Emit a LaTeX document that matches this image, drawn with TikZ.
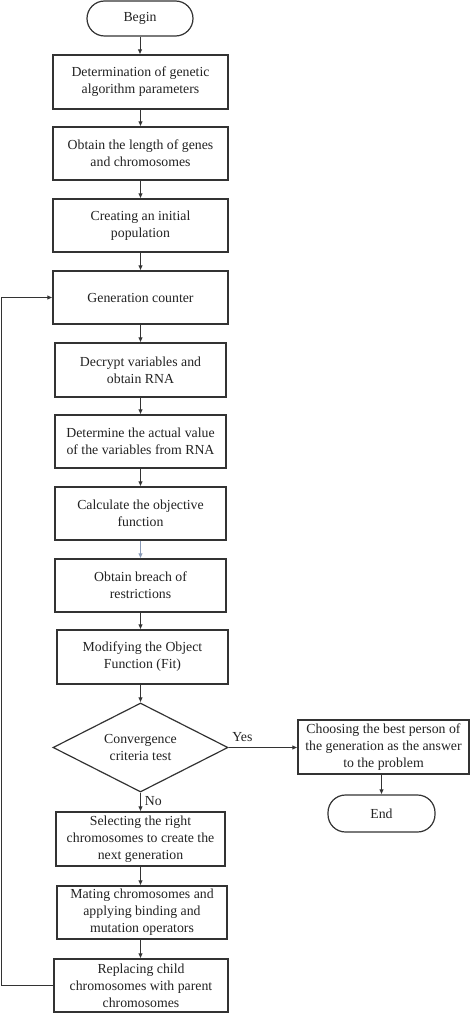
\documentclass[tikz,border=0pt]{standalone}
\usepackage{fontspec}
\setmainfont{Liberation Serif}
\usetikzlibrary{shapes.geometric,arrows.meta}
\definecolor{ink}{HTML}{222222}
\definecolor{linec}{HTML}{333333}
\definecolor{bluish}{HTML}{8A9BB8}
\begin{document}
\begin{tikzpicture}[x=1pt,y=-1pt,
  every node/.style={text=ink,font=\fontsize{13.8}{17}\selectfont},
  proc/.style={draw=linec,line width=1.2pt,rectangle,inner sep=0pt,align=center},
  term/.style={draw=linec,line width=1.2pt,rectangle,rounded corners=17.5pt,inner sep=0pt,align=center},
  decide/.style={draw=linec,line width=1.2pt,diamond,inner sep=0pt,align=center},
  arr/.style={draw=linec,line width=0.9pt,-{Latex[length=5pt,width=4.5pt]}},
  lbl/.style={inner sep=0pt}]
\useasboundingbox (0,0) rectangle (474,1019);
% box helper: center and size
\node[term, minimum width=106pt, minimum height=35pt] (begin) at (140,18.5) {Begin};
\node[proc, minimum width=175pt, minimum height=54pt] (b1) at (140.5,82) {Determination of genetic\\algorithm parameters};
\node[proc, minimum width=175pt, minimum height=53pt] (b2) at (140.5,153.5) {Obtain the length of genes\\and chromosomes};
\node[proc, minimum width=175pt, minimum height=53pt] (b3) at (140.5,225.5) {Creating an initial\\population};
\node[proc, minimum width=175pt, minimum height=53pt] (gen) at (140.5,297.5) {Generation counter};
\node[proc, minimum width=171pt, minimum height=54pt] (dec) at (140.5,370) {Decrypt variables and\\obtain RNA};
\node[proc, minimum width=171pt, minimum height=53pt] (det) at (140.5,441.5) {Determine the actual value\\of the variables from RNA};
\node[proc, minimum width=171pt, minimum height=53pt] (calc) at (140.5,513.5) {Calculate the objective\\function};
\node[proc, minimum width=171pt, minimum height=53pt] (breach) at (140.5,585.5) {Obtain breach of\\restrictions};
\node[proc, minimum width=171pt, minimum height=54pt] (mod) at (142.5,657) {Modifying the Object\\Function (Fit)};
\node[decide, minimum width=175pt, minimum height=89pt, aspect=1.97] (conv) at (140.5,747.5) {};
\node[lbl, align=center] at (140.5,747.5) {Convergence\\criteria test};
\node[proc, minimum width=171pt, minimum height=54pt] (choose) at (383.5,747) {Choosing the best person of\\the generation as the answer\\to the problem};
\node[term, minimum width=107pt, minimum height=37pt] (end) at (381.5,813.5) {End};
\node[proc, minimum width=169pt, minimum height=54pt] (sel) at (140.5,839) {Selecting the right\\chromosomes to create the\\next generation};
\node[proc, minimum width=170pt, minimum height=53pt] (mat) at (142,912.5) {Mating chromosomes and\\applying binding and\\mutation operators};
\node[proc, minimum width=174pt, minimum height=53pt] (rep) at (141,985.5) {Replacing child\\chromosomes with parent\\chromosomes};
\coordinate (lc) at (1,985.5);
% connectors
\draw[arr] (begin.south) -- (begin.south |- b1.north);
\draw[arr] (b1.south) -- (b2.north);
\draw[arr] (b2.south) -- (b3.north);
\draw[arr] (b3.south) -- (gen.north);
\draw[arr] (gen.south) -- (dec.north);
\draw[arr] (dec.south) -- (det.north);
\draw[arr] (det.south) -- (calc.north);
\draw[arr,draw=bluish] (calc.south) -- (breach.north);
\draw[arr] (breach.south) -- (breach.south |- mod.north);
\draw[arr] (mod.south -| conv.north) -- (conv.north);
\draw[arr] (conv.east) -- node[lbl, above=5pt, pos=0.2] {Yes} (conv.east -| choose.west);
\draw[arr] (choose.south -| end.north) -- (end.north);
\draw[arr] (conv.south) -- node[lbl, right=4pt, pos=0.45] {No} (conv.south |- sel.north);
\draw[arr] (sel.south) -- (sel.south |- mat.north);
\draw[arr] (mat.south -| sel.south) -- (sel.south |- rep.north);
\draw[arr] (rep.west) -- (lc) |- (gen.west);
\end{tikzpicture}
\end{document}
